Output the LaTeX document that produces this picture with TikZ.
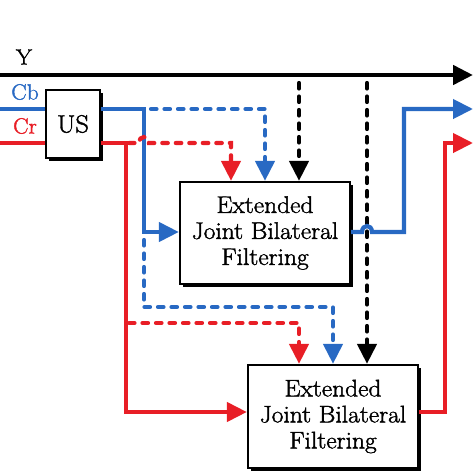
\documentclass[tikz,border=0pt]{standalone}
\usepackage{fontspec}
\setmainfont{Latin Modern Roman}[FakeBold=1.6, FakeStretch=1.06]
\usetikzlibrary{arrows.meta,shadows}
\definecolor{cbblue}{RGB}{40,105,195}
\definecolor{crred}{RGB}{232,30,38}
\begin{document}
\begin{tikzpicture}[x=1pt,y=-1pt,
  line/.style={line width=4.2pt},
  tip/.style={-{Triangle[length=20pt,width=19pt]}},
  dsh/.style={dash pattern=on 5.5pt off 8pt, line cap=round},
  box/.style={draw, line width=2.2pt, fill=white, align=center,
    drop shadow={shadow xshift=3pt, shadow yshift=-3pt, fill=black, opacity=1},
    font=\fontsize{24}{26}\selectfont, inner sep=0pt},
  lbl/.style={font=\fontsize{22}{24}\selectfont, inner sep=0pt}]
\useasboundingbox (0,0) rectangle (474,474);

% boxes
\node[box, minimum width=54pt, minimum height=68pt, font=\fontsize{25}{27}\selectfont] (us) at (73,124) {US};
\node[box, minimum width=170pt, minimum height=102pt] (f1) at (265,233) {Extended\\Joint Bilateral\\Filtering};
\node[box, minimum width=170pt, minimum height=103pt] (f2) at (333,416.5) {Extended\\Joint Bilateral\\Filtering};

% labels
\node[lbl] (ly) at (24,57) {Y};
\node[lbl, text=cbblue] (lcb) at (25,92) {Cb};
\node[lbl, text=crred] (lcr) at (25,126) {Cr};

% coordinates
\coordinate (yin) at (0,75);
\coordinate (yout) at (473,75);
\coordinate (cbin) at (0,109);
\coordinate (crin) at (0,143);
\coordinate (cbv) at (144,109);
\coordinate (cbm) at (144,232);
\coordinate (cbl) at (144,307);
\coordinate (crv) at (126,143);
\coordinate (crl) at (126,412);
\coordinate (crd) at (126,323);
\coordinate (k1) at (299,75);
\coordinate (k2) at (367,75);
\coordinate (b1) at (265,109);
\coordinate (r1) at (231,143);
\coordinate (b2) at (333,307);
\coordinate (r2) at (299,323);
\coordinate (o1) at (404,232);
\coordinate (o1out) at (473,109);
\coordinate (o2) at (445,412);
\coordinate (o2out) at (473,143);

% Y line
\draw[line, line width=4.6pt, tip] (yin) -- (yout);

% inputs
\draw[line, cbblue] (cbin) -- (us.west |- cbin);
\draw[line, crred] (crin) -- (us.west |- crin);

% Cb solid
\draw[line, cbblue, tip] (us.east |- cbv) -- (cbv) -- (cbm) -- (cbm -| f1.west);
% Cr solid
\draw[line, crred, tip] (us.east |- crv) -- (crv) -- (crl) -- (crl -| f2.west);

% dashed Cb
\draw[line, cbblue, dsh, tip] (cbv) ++(7,0) -- (b1) -- (b1 |- f1.north);
\draw[line, cbblue, dsh, tip] (cbm) ++(0,8) -- (cbl) -- (b2) -- (b2 |- f2.north);

% dashed Cr
\draw[line, crred, dsh, tip] (crv) ++(3,0) -- (139,143) .. controls (139,135) and (149,135) .. (149,143) -- (r1) -- (r1 |- f1.north);
\draw[line, crred, dsh, tip] (crd) ++(3,0) -- (r2) -- (r2 |- f2.north);

% dashed Y
\draw[line, black, dsh, tip] (k1) ++(0,8) -- (k1 |- f1.north);
\draw[line, black, dsh, tip] (k2) ++(0,8) -- (k2 |- f2.north);

% outputs
\draw[line, cbblue, tip] (f1.east |- o1) -- (362,232) .. controls (362,224) and (372,224) .. (372,232) -- (o1) -- (o1 |- o1out) -- (o1out);
\draw[line, crred, tip] (f2.east |- o2) -- (o2) -- (o2 |- o2out) -- (o2out);
\end{tikzpicture}
\end{document}
